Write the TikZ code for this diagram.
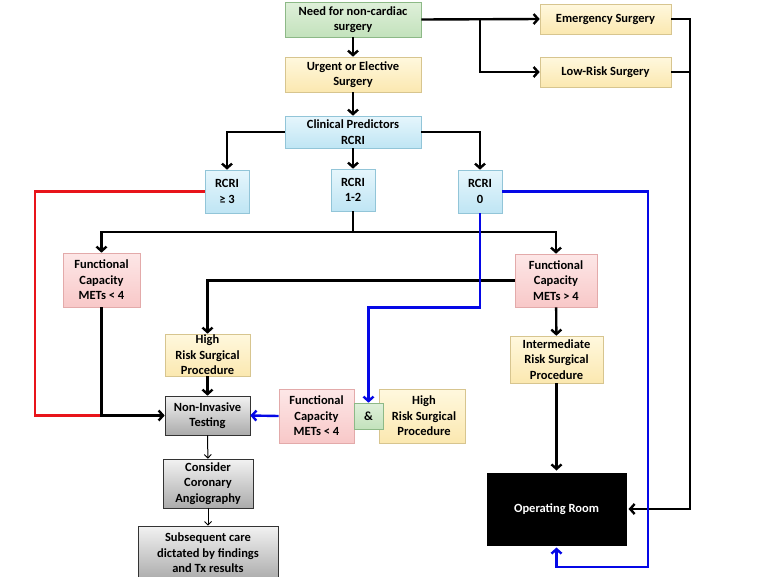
\documentclass[tikz,border=0pt]{standalone}
\usepackage{fontspec}
\setmainfont{Carlito}
\usetikzlibrary{arrows.meta,shadows,calc}
\definecolor{gT}{HTML}{DFF0DA}\definecolor{gB}{HTML}{C3E2BC}\definecolor{gD}{HTML}{8DB987}
\definecolor{yT}{HTML}{FFF8DE}\definecolor{yB}{HTML}{FBE8B0}\definecolor{yD}{HTML}{D7C58F}
\definecolor{bT}{HTML}{E6F6FC}\definecolor{bB}{HTML}{BFE5F4}\definecolor{bD}{HTML}{92C5D8}
\definecolor{pT}{HTML}{FDE7E7}\definecolor{pB}{HTML}{F8C8C8}\definecolor{pD}{HTML}{E3AAAA}
\definecolor{kT}{HTML}{F2F2F2}\definecolor{kB}{HTML}{ABABAB}\definecolor{kD}{HTML}{333333}
\definecolor{lblue}{HTML}{0508E6}
\definecolor{lred}{HTML}{E8141A}
\tikzset{
  box/.style={draw, line width=0.6pt, align=center, inner sep=0pt,
    font=\bfseries\fontsize{12.5}{15.5}\selectfont, shading=axis,
    drop shadow={shadow xshift=1.2pt, shadow yshift=-1.2pt, opacity=0.35, fill=black!60}},
  grnbox/.style={box, top color=gT, bottom color=gB, draw=gD},
  yelbox/.style={box, top color=yT, bottom color=yB, draw=yD},
  blubox/.style={box, top color=bT, bottom color=bB, draw=bD},
  pnkbox/.style={box, top color=pT, bottom color=pB, draw=pD},
  grybox/.style={box, top color=kT, bottom color=kB, draw=kD},
  sz/.style 2 args={minimum width=#1pt, minimum height=#2pt},
  arr/.style={line width=2.4pt, -{Straight Barb[length=4.5pt,width=10pt]}},
  thinarr/.style={line width=1pt, -{Straight Barb[length=3.5pt,width=7pt]}},
  conn/.style={line width=2.4pt},
}
\begin{document}
\begin{tikzpicture}[x=1pt,y=-1pt]
\useasboundingbox (0,0) rectangle (768,576);
\fill[white] (0,0) rectangle (768,576);
% nodes
\node[grnbox, sz={136}{35}] (need) at (353,19.5) {Need for non-cardiac\\surgery};
\node[yelbox, sz={136}{35}] (urg) at (353,74.5) {Urgent or Elective\\Surgery};
\node[blubox, sz={136}{32}] (clin) at (353,132) {Clinical Predictors\\RCRI};
\node[yelbox, sz={131}{30}] (emer) at (605.5,19) {Emergency Surgery};
\node[yelbox, sz={131}{30}] (low) at (605.5,72) {Low-Risk Surgery};
\node[blubox, sz={44}{43}] (r3) at (227,191.5) {RCRI\\≥ 3};
\node[blubox, sz={44}{42}] (r12) at (353,190) {RCRI\\1-2};
\node[blubox, sz={44}{43}] (r0) at (480,191.5) {RCRI\\0};
\node[pnkbox, sz={77}{54}] (fcl) at (101.5,280) {Functional\\Capacity\\METs < 4};
\node[pnkbox, sz={82}{53}] (fcr) at (556,280.5) {Functional\\Capacity\\METs > 4};
\node[yelbox, sz={85}{42}] (hrl) at (207.5,355) {High\\Risk Surgical\\Procedure};
\node[yelbox, sz={93}{47}] (inter) at (556.5,359.5) {Intermediate\\Risk Surgical\\Procedure};
\node[grybox, sz={85}{39}] (nit) at (207.5,415.5) {Non-Invasive\\Testing};
\node[pnkbox, sz={75}{54}] (fcc) at (316.5,416) {Functional\\Capacity\\METs < 4};
\node[yelbox, sz={86}{54}] (hrc) at (422,416) {\hspace*{4pt}High\\\hspace*{4pt}Risk Surgical\\\hspace*{4pt}Procedure};
\node[grnbox, sz={29}{26}] (amp) at (368.5,416) {\&};
\node[grybox, sz={90}{49}] (cons) at (208,483.5) {Consider\\Coronary\\Angiography};
\node[grybox, sz={140}{54}] (sub) at (208,553) {Subsequent care\\dictated by findings\\and Tx results};
\node[fill=black, draw=white, line width=2pt, sz={142}{75}, text=white,
  font=\bfseries\fontsize{12.5}{15}\selectfont,
  drop shadow={shadow xshift=1pt, shadow yshift=-1pt, opacity=0.4, fill=black!50}] (or) at (556.5,509) {Operating Room};
% coordinates
\coordinate (split) at (353,232);
\coordinate (redc) at (35,0);
\coordinate (rcol) at (690,0);
\coordinate (bcol) at (648,567);
% black connectors
\draw[arr] (need) -- (urg);
\draw[arr] (urg) -- (clin);
\draw[arr] (need.east) -- (emer.west);
\draw[arr] (r0.north |- need.east) |- (low.west);
\draw[arr] (clin.west) -| (r3.north);
\draw[arr] (clin.east) -| (r0.north);
\draw[arr] (clin) -- (r12);
\draw[conn] (r12.south) -- (split);
\draw[arr] (split) -| (fcl.north);
\draw[arr] (split) -| (fcr.north);
\draw[conn, lred] (r3.west) -| (redc |- nit.west) -- (fcl.south |- nit.west);
\draw[arr] (fcl.south) |- (nit.west);
\draw[arr] (fcr.west) -| (hrl.north);
\draw[arr] (hrl) -- (nit);
\draw[arr] (fcr) -- (inter);
\draw[arr] (inter.south) -- (inter.south |- or.north);
\draw[conn] (low.east) -- (rcol |- low.east);
\draw[arr] (emer.east) -| (rcol |- or.east) -- (or.east);
\draw[thinarr] (nit) -- (cons);
\draw[thinarr] (cons) -- (sub);
% blue connectors
\draw[arr, lblue] (r0.south) -- ++(0,94) -| (amp.north);
\draw[arr, lblue] (fcc.west) -- (nit.east);
\draw[arr, lblue] (r0.east) -| (bcol) -| (or.south);
\end{tikzpicture}
\end{document}
